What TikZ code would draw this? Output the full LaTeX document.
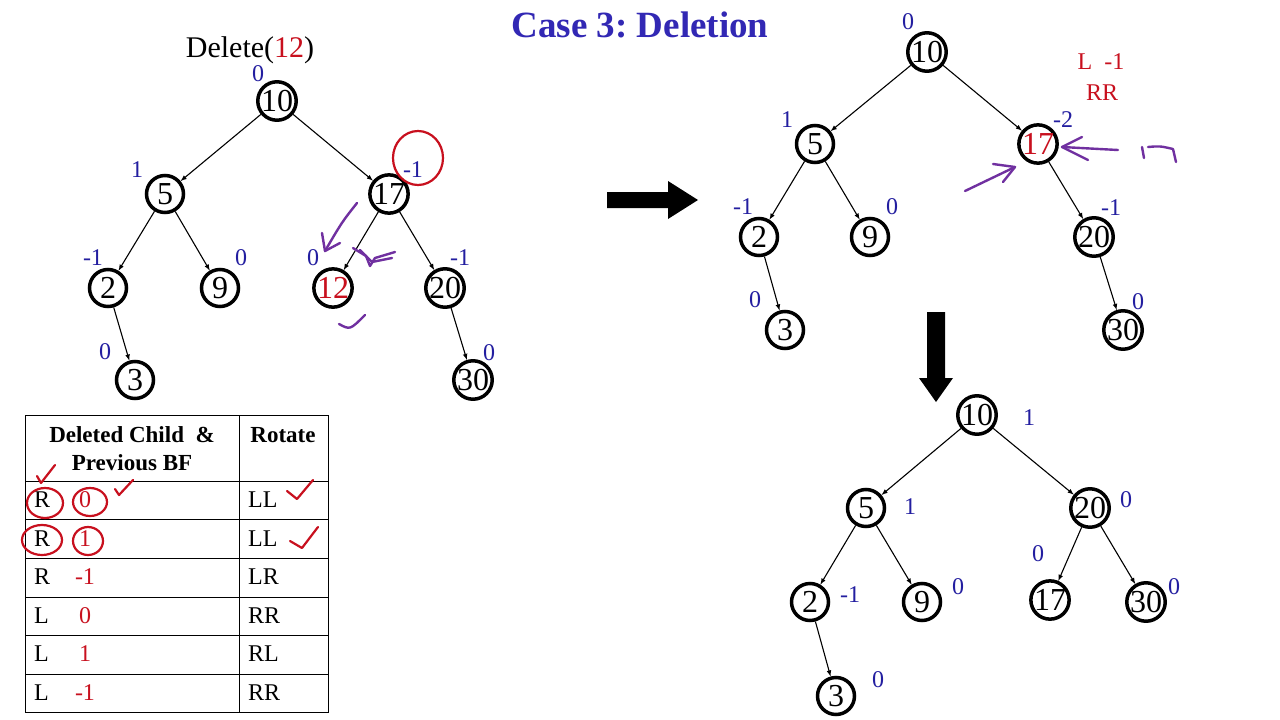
\documentclass[tikz,border=0pt]{standalone}
\usepackage{fontspec}
\setmainfont{Liberation Serif}
\usetikzlibrary{arrows,positioning}
\definecolor{bfblue}{RGB}{35,30,160}
\definecolor{titleblue}{RGB}{50,40,180}
\definecolor{penred}{RGB}{200,16,30}
\definecolor{penpurple}{RGB}{112,48,160}
\newcommand{\rd}[1]{\textcolor{penred}{#1}}

\begin{document}
\begin{tikzpicture}[x=1pt, y=-1pt, >=latex,
	  avl/.style={circle, draw, line width=3.5pt, minimum size=37pt, inner sep=0pt, font=\fontsize{32}{32}\selectfont},
	  bf/.style={text=bfblue, inner sep=0pt, font=\fontsize{24}{24}\selectfont},
	  cell/.style={inner sep=0pt, font=\fontsize{24}{24}\selectfont},
	  head/.style={inner sep=0pt, align=center, font=\bfseries\fontsize{23}{28}\selectfont},
	  redpen/.style={draw=penred, line width=2.2pt, line cap=round, line join=round},
	  purplepen/.style={draw=penpurple, line width=2.4pt, line cap=round, line join=round}]
	  \fill[white] (0,0) rectangle (1280,720);
	  \node[text=titleblue, font=\bfseries\fontsize{37}{37}\selectfont] (title) at (640,25) {Case 3:\ Deletion};
	  \node[font=\fontsize{30}{30}\selectfont, inner sep=0pt] (del) at (250,50) {Delete(\rd{12})};
	  % tree before
	  \node[avl] (a10) at (277,101) {10};
	  \node[avl] (a5)  at (165,194) {5};
	  \node[avl] (a17) at (389,194) {17};
	  \node[avl] (a2)  at (108,288) {2};
	  \node[avl] (a9)  at (220,288) {9};
	  \node[avl] (a12) at (333,288) {\rd{12}};
	  \node[avl] (a20) at (445,288) {20};
	  \node[avl] (a3)  at (135,380) {3};
	  \node[avl] (a30) at (473,380) {30};
	  \path[->, line width=1.1pt]
	  (a10) edge (a5) edge (a17)
	  (a5)  edge (a2) edge (a9)
	  (a17) edge (a12) edge (a20)
	  (a2)  edge (a3)
	  (a20) edge (a30);
	  \node[bf] (fa10) at (258,74)  {0};
	  \node[bf] (fa5)  at (137,170) {1};
	  \node[bf] (fa17) at (413,170) {-1};
	  \node[bf] (fa2)  at (93,258)  {-1};
	  \node[bf] (fa9)  at (241,258) {0};
	  \node[bf] (fa12) at (313,258) {0};
	  \node[bf] (fa20) at (460,258) {-1};
	  \node[bf] (fa3)  at (105,352) {0};
	  \node[bf] (fa30) at (489,353) {0};
	  % tree after deleting
	  \node[avl] (b10) at (927,52)  {10};
	  \node[avl] (b5)  at (815,144) {5};
	  \node[avl] (b17) at (1038,144) {\rd{17}};
	  \node[avl] (b2)  at (759,237) {2};
	  \node[avl] (b9)  at (870,237) {9};
	  \node[avl] (b20) at (1094,237) {20};
	  \node[avl] (b3)  at (785,330) {3};
	  \node[avl] (b30) at (1123,330) {30};
	  \path[->, line width=1.1pt]
	  (b10) edge (b5) edge (b17)
	  (b5)  edge (b2) edge (b9)
	  (b17) edge (b20)
	  (b2)  edge (b3)
	  (b20) edge (b30);
	  \node[bf] (fb10) at (908,22)  {0};
	  \node[bf] (fb5)  at (787,120) {1};
	  \node[bf] (fb17) at (1063,120) {-2};
	  \node[bf] (fb2)  at (743,207) {-1};
	  \node[bf] (fb9)  at (892,207) {0};
	  \node[bf] (fb20) at (1111,208) {-1};
	  \node[bf] (fb3)  at (755,300) {0};
	  \node[bf] (fb30) at (1138,302) {0};
	  \node[cell, text=penred] (case) at (1101,62) {L\ \ -1};
	  \node[cell, text=penred] (rot)  at (1102,93) {RR};
	  % tree after rotation
	  \node[avl] (c10) at (977,415) {10};
	  \node[avl] (c5)  at (866,508) {5};
	  \node[avl] (c20) at (1090,508) {20};
	  \node[avl] (c2)  at (810,602) {2};
	  \node[avl] (c9)  at (922,602) {9};
	  \node[avl] (c17) at (1050,600) {17};
	  \node[avl] (c30) at (1146,602) {30};
	  \node[avl] (c3)  at (836,696) {3};
	  \path[->, line width=1.1pt]
	  (c10) edge (c5) edge (c20)
	  (c5)  edge (c2) edge (c9)
	  (c20) edge (c17) edge (c30)
	  (c2)  edge (c3);
	  \node[bf] (fc10) at (1029,418) {1};
	  \node[bf] (fc5)  at (910,507)  {1};
	  \node[bf] (fc20) at (1126,500) {0};
	  \node[bf] (fc2)  at (850,595)  {-1};
	  \node[bf] (fc9)  at (958,587)  {0};
	  \node[bf] (fc17) at (1038,554) {0};
	  \node[bf] (fc30) at (1174,587) {0};
	  \node[bf] (fc3)  at (878,680)  {0};
	  % big arrows
	  \fill (607,192) -- (668,192) -- (668,181) -- (698,200) -- (668,219) -- (668,208) -- (607,208) -- cycle;
	  \fill (927,312) -- (945,312) -- (945,378) -- (953,378) -- (936,402) -- (919,378) -- (927,378) -- cycle;
	  % table
	  \draw[line width=1pt] (25,415) rectangle (328,712);
	  \draw[line width=1pt] (239,415) -- (239,712);
	  \foreach \y in {481,519,558,597,635,674}
	    \draw[line width=1pt] (25,\y) -- (328,\y);
	  \node[head] (h1) at (132,449) {Deleted Child\ \ \&\\Previous BF};
	  \node[head] (h2) at (283,435) {Rotate};
	  \foreach \s/\v/\r [count=\i] in {R/0/LL, R/1/LL, R/-1/LR, L/0/RR, L/1/RL, L/-1/RR} {
	    \node[cell, anchor=west] (s\i) at (34,461.5+38.5*\i) {\s};
	    \node[cell, text=penred] (v\i) at (85,461.5+38.5*\i) {\v};
	    \node[cell, anchor=west] (r\i) at (248,461.5+38.5*\i) {\r};
	  }
	  % pen marks
	  \draw[redpen] (418,158) ellipse [x radius=25pt, y radius=27pt];
	  \draw[redpen] (45,503) ellipse [x radius=18pt, y radius=15pt];
	  \draw[redpen] (90,502) ellipse [x radius=17pt, y radius=14pt];
	  \draw[redpen] (42,540) ellipse [x radius=20pt, y radius=15pt];
	  \draw[redpen] (88,541) ellipse [x radius=15pt, y radius=14pt];
	  \draw[redpen] (37,476) -- (41,483) -- (55,465);
	  \draw[redpen] (115,489) -- (119,495) -- (133,480);
	  \draw[redpen] (287,491) -- (297,499) -- (313,480);
	  \draw[redpen] (290,541) -- (302,548) -- (318,527);
	  \draw[purplepen] (357,203) .. controls (342,222) .. (325,251);
	  \draw[purplepen] (322,233) -- (325,251) -- (340,243);
	  \draw[purplepen] (353,248) -- (366,256) -- (370,266) -- (375,258) -- (395,252);
	  \draw[purplepen] (360,250) -- (372,262) -- (392,258);
	  \draw[purplepen] (339,324) .. controls (350,330) .. (365,315);
	  \draw[purplepen] (1118,150) -- (1062,147);
	  \draw[purplepen] (1082,137) -- (1062,147) -- (1088,160);
	  \draw[purplepen] (1142,147) -- (1144,158);
	  \draw[purplepen] (1148,147) .. controls (1160,146) .. (1173,149) -- (1176,162);
	  \draw[purplepen] (965,191) -- (1015,167);
	  \draw[purplepen] (993,164) -- (1015,167) -- (1003,182);
\end{tikzpicture}
\end{document}
